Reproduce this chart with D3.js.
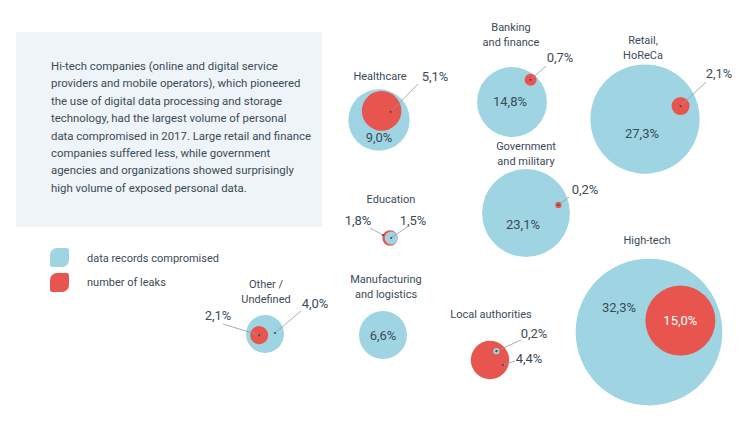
<!DOCTYPE html>
<html>
<head>
<meta charset="utf-8">
<script src="https://cdn.jsdelivr.net/npm/d3@7"></script>
<style>
  html, body { margin: 0; padding: 0; background: #fff; }
  svg text { font-family: Roboto, "Noto Sans", sans-serif; fill: #3b4b58; }
</style>
</head>
<body>
<svg id="chart" width="750" height="427"></svg>
<script>
// industries, share of records compromised and share of leaks (2017)
var categories = ["High-tech", "Retail,\nHoReCa", "Government\nand military", "Banking\nand finance",
                  "Healthcare", "Manufacturing\nand logistics", "Local authorities", "Other /\nUndefined", "Education"];
var records = [32.3, 27.3, 23.1, 14.8, 9.0, 6.6, 0.2, 4.0, 1.5];
var leaks   = [15.0, 2.1, 0.2, 0.7, 5.1, null, 4.4, 2.1, 1.8];

var legendLabels = ["data records compromised", "number of leaks"];

var noteLines = [
    "Hi-tech companies (online and digital service",
    "providers and mobile operators), which pioneered",
    "the use of digital data processing and storage",
    "technology, had the largest volume of personal",
    "data compromised in 2017. Large retail and finance",
    "companies suffered less, while government",
    "agencies and organizations showed surprisingly",
    "high volume of exposed personal data."
];

var BLUE = '#9fd4e3', RED = '#e8554e', LEADER = '#8e9ca6';

// hand layout of the bubble groups (the original is a free-form composition)
// c: centre of the larger circle, ang/t: where the smaller one sits inside it
// name: baseline of first name line, big/small: value label position, from: leader start offset
var layout = [
    {c: [649, 332], ang: -20, t: 0.87, name: [647, 244], big: [-30, -20], small: 'inside'},
    {c: [645, 119], ang: -20, t: 0.83, name: [643, 44], big: [-3, 19], small: [719, 78], smallEnd: [706, 82]},
    {c: [526, 213], ang: -14, t: 0.82, name: [526, 150], big: [-3, 16], small: [585, 194], smallEnd: [569, 197]},
    {c: [512, 102], ang: -50, t: 1.0, name: [511, 31], big: [-2, 4], small: [560, 62], smallEnd: [546, 66]},
    {c: [379, 120], ang: -74, t: 0.87, name: [380, 80], big: [0, 22], small: [435, 81], smallEnd: [418, 84], from: [9, 1]},
    {c: [383, 335], name: [386, 283], big: [0, 4.5]},
    {c: [490, 360], ang: -54, t: 0.68, name: [491, 318], big: [39, 3], bigFrom: [13, 5], bigEnd: [515, 361], small: [534, 338], smallEnd: [521, 340]},
    {c: [265, 334], ang: 169, t: 0.6, name: [266, 288], big: [50, -26], bigFrom: [10, -1], bigEnd: [301, 311], small: [218, 320], smallEnd: [223, 324]},
    {c: [390, 238], ang: 0, t: 1.0, name: [391, 203], big: [-32, -13], bigFrom: [-7, -3], bigEnd: [370, 228], small: [413, 225], smallEnd: [407, 227]}
];

var locale = d3.formatLocale({decimal: ",", thousands: " ", grouping: [3], currency: ["", ""]});
var pct = function(v) { return locale.format(".1f")(v) + "%"; };

// the designer's size scale: roughly proportional, small values kept visible
var r = d3.scaleLinear()
    .domain([0, 0.7, 1.5, 2, 4, 5, 10, 15, 25, 33])
    .range([2, 6, 6.5, 8.5, 19, 19.5, 33.5, 35, 46, 76]);

// leaf shaped legend key: big radius on two opposite corners
var leaf = function(w, h, big, small) {
    var p = d3.path();
    p.moveTo(big, 0);
    p.lineTo(w - small, 0);
    p.arcTo(w, 0, w, small, small);
    p.lineTo(w, h - big);
    p.arcTo(w, h, w - big, h, big);
    p.lineTo(small, h);
    p.arcTo(0, h, 0, h - small, small);
    p.lineTo(0, big);
    p.arcTo(0, 0, big, 0, big);
    p.closePath();
    return p.toString();
};

var svg = d3.select('#chart');

// note box
svg.append('rect')
    .attr('x', 16).attr('y', 32)
    .attr('width', 306).attr('height', 195)
    .attr('fill', '#eef4f7');

svg.append('g')
    .selectAll('text')
    .data(noteLines)
    .enter()
    .append('text')
    .attr('x', 51)
    .attr('y', function(d, i) { return 70 + i * 17.4; })
    .style('font-size', '11.4px')
    .text(function(d) { return d; });

// legend
var legend = svg.append('g').attr('transform', 'translate(50,248)');
legend.selectAll('path')
    .data(legendLabels)
    .enter()
    .append('path')
    .attr('transform', function(d, i) { return 'translate(0,' + (i * 25) + ')'; })
    .attr('d', leaf(19, 19, 7, 2.5))
    .attr('fill', function(d, i) { return i ? RED : BLUE; });
legend.selectAll('text')
    .data(legendLabels)
    .enter()
    .append('text')
    .attr('x', 37)
    .attr('y', function(d, i) { return 14 + i * 24; })
    .style('font-size', '11px')
    .text(function(d) { return d; });

// bubbles
var groups = categories.map(function(name, i) {
    var L = layout[i];
    var circles = [{v: records[i], fill: BLUE}];
    if (leaks[i] != null) circles.push({v: leaks[i], fill: RED});
    circles.sort(function(a, b) { return b.v - a.v; });
    var big = circles[0], small = circles[1];
    big.x = L.c[0]; big.y = L.c[1];
    if (small) {
        var d = (r(big.v) - r(small.v)) * L.t, a = L.ang * Math.PI / 180;
        small.x = big.x + d * Math.cos(a);
        small.y = big.y + d * Math.sin(a);
    }
    return {name: name, L: L, big: big, small: small};
});

var g = svg.append('g').selectAll('g.industry')
    .data(groups)
    .enter()
    .append('g')
    .attr('class', 'industry');

g.each(function(d) {
    var sel = d3.select(this);
    var L = d.L;
    var cs = d.small ? [d.big, d.small] : [d.big];

    sel.selectAll('circle.bubble')
        .data(cs)
        .enter()
        .append('circle')
        .attr('class', 'bubble')
        .attr('cx', function(c) { return c.x; })
        .attr('cy', function(c) { return c.y; })
        .attr('r', function(c) { return r(c.v); })
        .attr('fill', function(c) { return c.fill; });

    // category name
    sel.append('text')
        .attr('text-anchor', 'middle')
        .style('font-size', '11px')
        .selectAll('tspan')
        .data(d.name.split('\n'))
        .enter()
        .append('tspan')
        .attr('x', L.name[0])
        .attr('y', function(t, i) { return L.name[1] + i * 14.5; })
        .text(function(t) { return t; });

    var leader = function(x1, y1, x2, y2) {
        sel.append('line')
            .attr('x1', x1).attr('y1', y1).attr('x2', x2).attr('y2', y2)
            .attr('stroke', LEADER).attr('stroke-width', 0.8);
        sel.append('circle')
            .attr('cx', x1).attr('cy', y1).attr('r', 1.1)
            .attr('fill', '#4a4a4a');
    };

    // value of the larger circle
    if (L.bigEnd) {
        leader(d.big.x + L.bigFrom[0], d.big.y + L.bigFrom[1], L.bigEnd[0], L.bigEnd[1]);
    }
    sel.append('text')
        .attr('x', d.big.x + L.big[0])
        .attr('y', d.big.y + L.big[1])
        .attr('text-anchor', 'middle')
        .style('font-size', '13px')
        .text(pct(d.big.v));

    // value of the smaller circle
    if (d.small) {
        if (L.small === 'inside') {
            sel.append('text')
                .attr('x', d.small.x)
                .attr('y', d.small.y + 4.5)
                .attr('text-anchor', 'middle')
                .style('font-size', '13px')
                .style('fill', '#fff')
                .text(pct(d.small.v));
        } else {
            var f = L.from || [0, 0];
            leader(d.small.x + f[0], d.small.y + f[1], L.smallEnd[0], L.smallEnd[1]);
            sel.append('text')
                .attr('x', L.small[0])
                .attr('y', L.small[1])
                .attr('text-anchor', 'middle')
                .style('font-size', '13px')
                .text(pct(d.small.v));
        }
    }
});
</script>
</body>
</html>
